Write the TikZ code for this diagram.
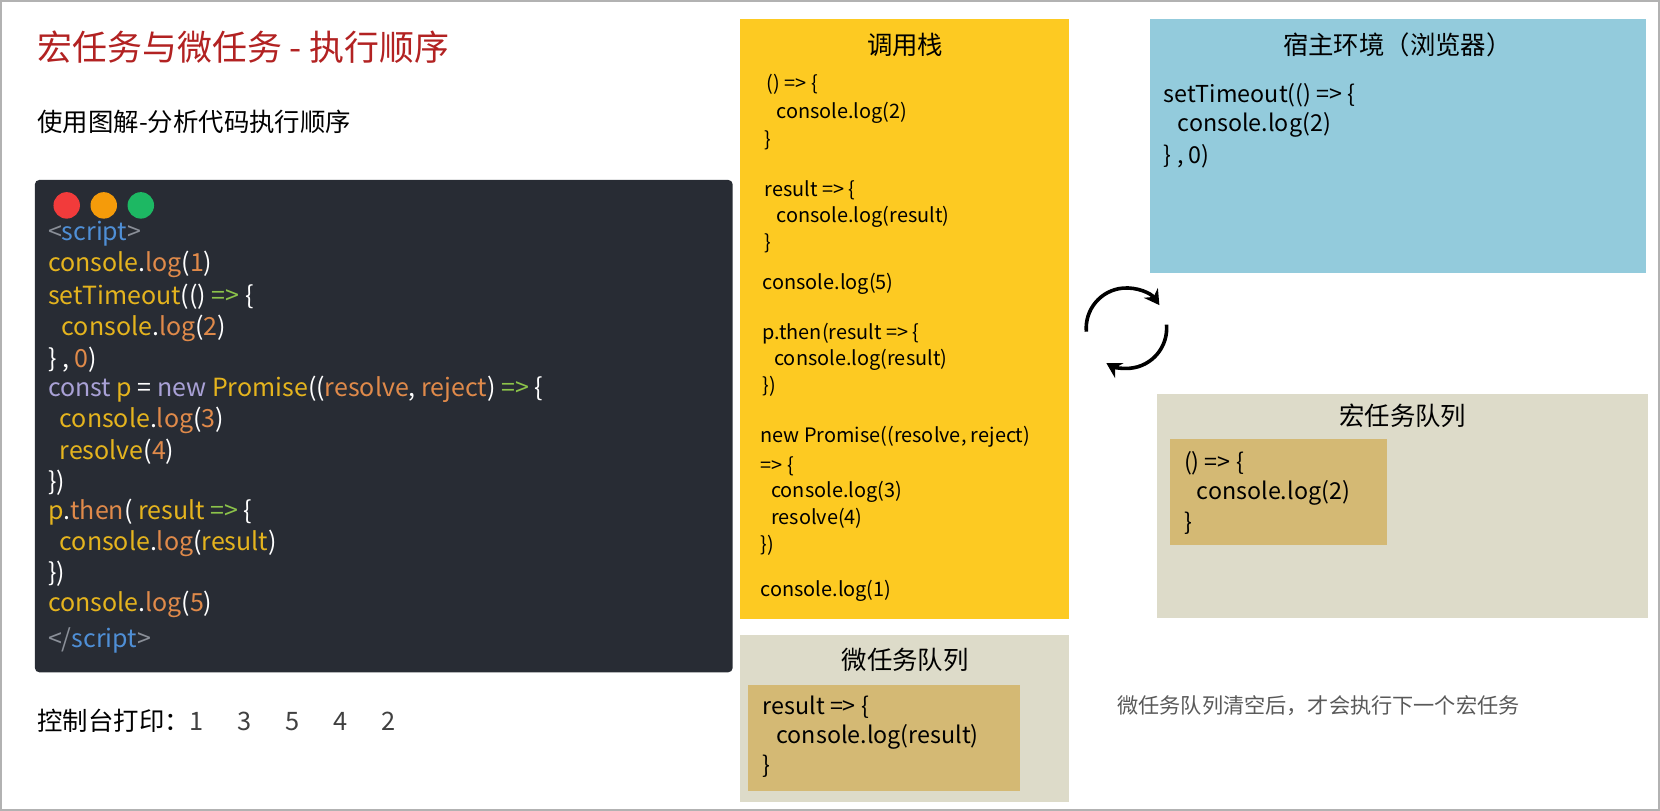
\documentclass[tikz,border=0pt]{standalone}
\usepackage{fontspec}
\setmainfont{Noto Sans CJK SC}
\usetikzlibrary{arrows.meta}
\definecolor{cbg}{HTML}{282C34}
\definecolor{cy}{HTML}{E5B41E}
\definecolor{co}{HTML}{E08A4A}
\definecolor{cg}{HTML}{8CC34A}
\definecolor{cp}{HTML}{A9A1D6}
\definecolor{cb}{HTML}{4F8FD6}
\definecolor{cgr}{HTML}{8A8F98}
\definecolor{stack}{HTML}{FDCA22}
\definecolor{queue}{HTML}{DDDBC9}
\definecolor{inner}{HTML}{D4B974}
\definecolor{host}{HTML}{93CBDC}
\definecolor{ttl}{HTML}{B22222}
\definecolor{dotr}{HTML}{F23B3B}
\definecolor{doto}{HTML}{F59B0A}
\definecolor{dotg}{HTML}{1DB863}
\newcommand{\cY}[1]{\textcolor{cy}{#1}}
\newcommand{\cO}[1]{\textcolor{co}{#1}}
\newcommand{\cG}[1]{\textcolor{cg}{#1}}
\newcommand{\cW}[1]{\textcolor{white}{#1}}
\newcommand{\cPu}[1]{\textcolor{cp}{#1}}
\begin{document}
\begin{tikzpicture}[x=0.5pt,y=-0.5pt,
  code/.style={anchor=west,inner sep=0,font=\fontsize{11.8}{13}\selectfont},
  st/.style={anchor=west,inner sep=0,font=\fontsize{9.4}{11}\selectfont},
  qt/.style={anchor=west,inner sep=0,font=\fontsize{11}{12}\selectfont},
  hd/.style={inner sep=0,font=\fontsize{12}{13}\selectfont},
  cyc/.style={line width=1.7pt,-{Stealth[length=7pt,width=8pt]}}]
\useasboundingbox (0,0) rectangle (1568,766);
\draw[gray!60,line width=0.6pt] (1,1) rectangle (1567,765);
\node[anchor=west,inner sep=0,text=ttl,font=\fontsize{16.5}{18}\selectfont] (title) at (35,45) {宏任务与微任务 - 执行顺序};
\node[anchor=west,inner sep=0,font=\fontsize{12}{13}\selectfont] (sub) at (35,115) {使用图解-分析代码执行顺序};
% code box
\fill[cbg,rounded corners=2pt] (33,170) rectangle (692,635);
\fill[dotr] (63,194) circle (12.5);
\fill[doto] (98,194) circle (12.5);
\fill[dotg] (133,194) circle (12.5);
\node[code] (c0) at (45,221) {\textcolor{cgr}{<}\textcolor{cb}{script}\textcolor{cgr}{>}};
\node[code] (c1) at (45,250) {\cY{console}\cW{.}\cO{log}\cW{(}\cO{1}\cW{)}};
\node[code] (c2) at (45,280) {\cY{setTimeout}\cW{(()}~\cG{=>}~\cW{\{}};
\node[code] (c3) at (58,310) {\cY{console}\cW{.}\cO{log}\cW{(}\cO{2}\cW{)}};
\node[code] (c4) at (45,340) {\cW{\}~,}~\cO{0}\cW{)}};
\node[code] (c5) at (45,368) {\cPu{const} \cY{p} \cW{=} \cPu{new} \cY{Promise}\cW{((}\cO{resolve}\cW{,}~\cO{reject}\cW{)}~\cG{=>}~\cW{\{}};
\node[code] (c6) at (56,397) {\cY{console}\cW{.}\cO{log}\cW{(}\cO{3}\cW{)}};
\node[code] (c7) at (56,427) {\cY{resolve}\cW{(}\cO{4}\cW{)}};
\node[code] (c8) at (45,456) {\cW{\})}};
\node[code] (c9) at (45,484) {\cY{p}\cW{.}\cO{then}\cW{(}~\cY{result}~\cG{=>}~\cW{\{}};
\node[code] (c10) at (56,513) {\cY{console}\cW{.}\cO{log}\cW{(}\cY{result}\cW{)}};
\node[code] (c11) at (45,542) {\cW{\})}};
\node[code] (c12) at (45,571) {\cY{console}\cW{.}\cO{log}\cW{(}\cO{5}\cW{)}};
\node[code] (c13) at (45,605) {\textcolor{cgr}{</}\textcolor{cb}{script}\textcolor{cgr}{>}};
\node[anchor=west,inner sep=0,font=\fontsize{12}{13}\selectfont] (out) at (35,681) {控制台打印：\textcolor{black!75}{1\hspace{16pt}3\hspace{16pt}5\hspace{16pt}4\hspace{16pt}2}};
% call stack
\fill[stack] (699,18) rectangle (1010,585);
\node[hd] (sth) at (855,42) {调用栈};
\node[st] at (724,80) {() => \{};
\node[st] at (733,107) {console.log(2)};
\node[st] at (722,133) {\}};
\node[st] at (722,180) {result => \{};
\node[st] at (733,205) {console.log(result)};
\node[st] at (722,230) {\}};
\node[st] at (720,268) {console.log(5)};
\node[st] at (720,315) {p.then(result => \{};
\node[st] at (731,340) {console.log(result)};
\node[st] at (720,365) {\})};
\node[st] at (718,413) {new Promise((resolve, reject)};
\node[st] at (718,440) {=> \{};
\node[st] at (728,465) {console.log(3)};
\node[st] at (728,490) {resolve(4)};
\node[st] at (718,515) {\})};
\node[st] at (718,558) {console.log(1)};
% micro queue
\fill[queue] (699,600) rectangle (1010,758);
\node[hd] (mqh) at (855,623) {微任务队列};
\fill[inner] (707,647) rectangle (963,747);
\node[qt] at (720,668) {result => \{};
\node[qt] at (733,696) {console.log(result)};
\node[qt] at (720,724) {\}};
% host
\fill[host] (1086,18) rectangle (1555,258);
\node[hd] (hh) at (1320,42) {宿主环境（浏览器）};
\node[qt] at (1099,90) {setTimeout(() => \{};
\node[qt] at (1112,118) {console.log(2)};
\node[qt] at (1099,148) {\} , 0)};
% macro queue
\fill[queue] (1093,372) rectangle (1557,584);
\node[hd] (Mqh) at (1325,393) {宏任务队列};
\fill[inner] (1105,415) rectangle (1310,515);
\node[qt] at (1118,438) {() => \{};
\node[qt] at (1130,466) {console.log(2)};
\node[qt] at (1118,494) {\}};
% cycle
\coordinate (cc) at (1064,310);
\draw[cyc] ([shift={(175:38)}]cc) arc[start angle=175,end angle=325,radius=38];
\draw[cyc] ([shift={(-5:38)}]cc) arc[start angle=-5,end angle=120,radius=38];
\node[anchor=west,inner sep=0,text=black!65,font=\fontsize{10}{11}\selectfont] (note) at (1055,667) {微任务队列清空后，才会执行下一个宏任务};
\end{tikzpicture}
\end{document}
